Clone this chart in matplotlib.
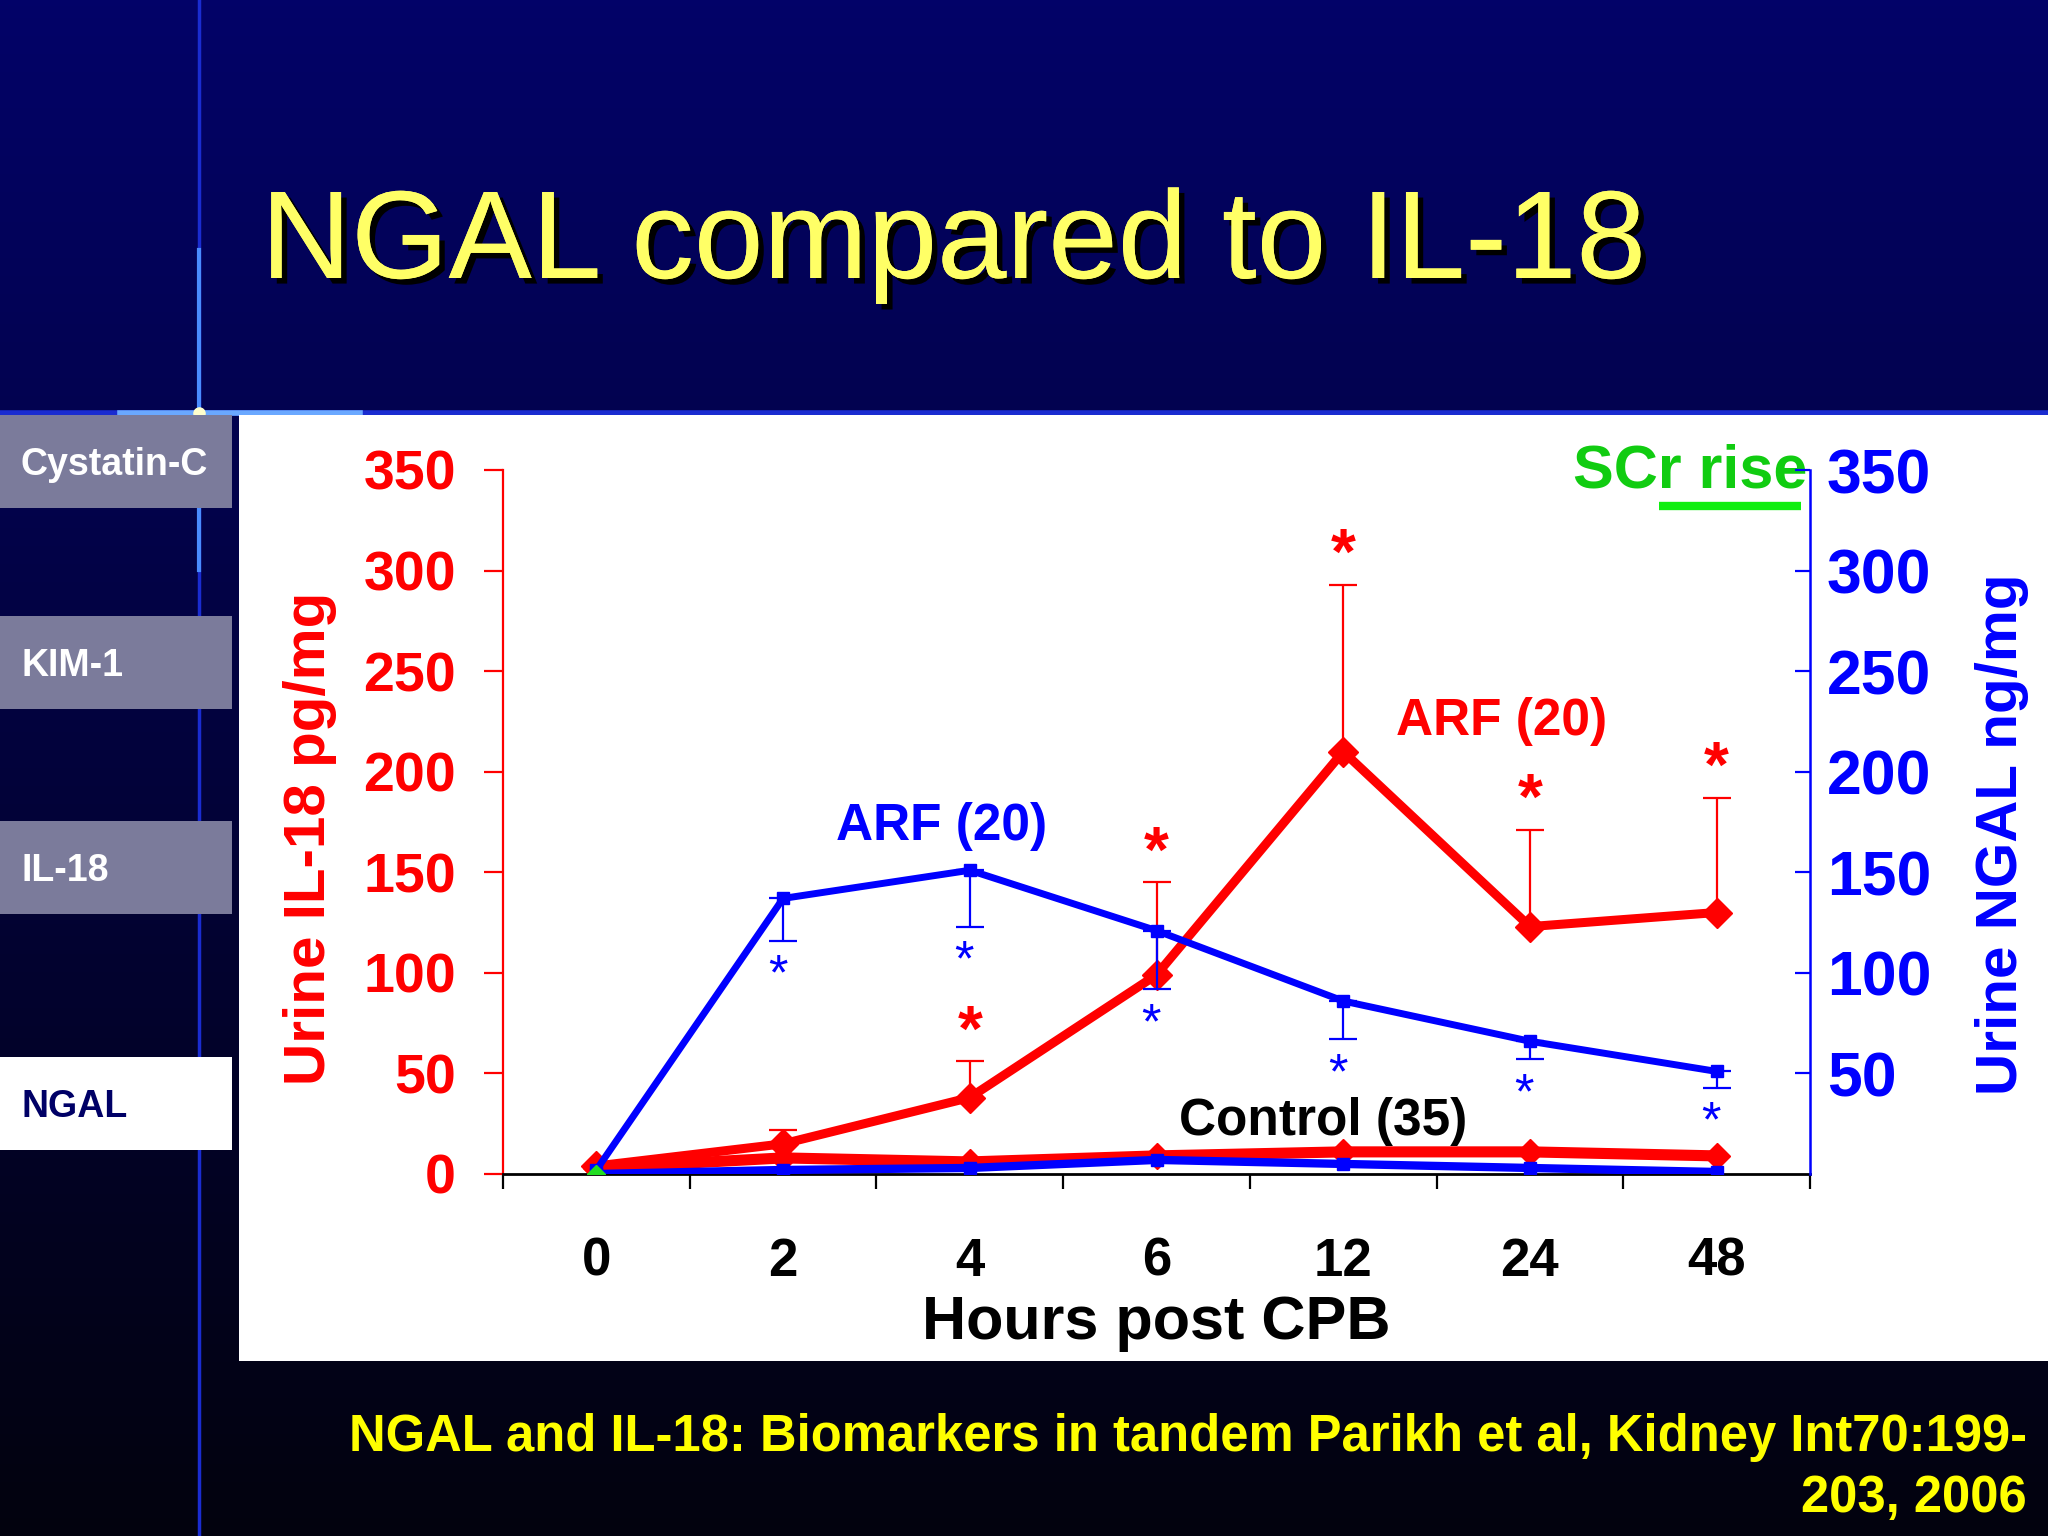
import numpy as np
import matplotlib
matplotlib.use("Agg")
import matplotlib.pyplot as plt
from matplotlib.patches import Rectangle
import matplotlib.patheffects as pe


# x categories (hours post CPB)
HOURS = ["0", "2", "4", "6", "12", "24", "48"]

# urine IL-18 (pg/mg), left axis
IL18_ARF = [4, 15, 38, 99, 210, 123, 130]
IL18_ARF_ERR = [0, 7, 18, 46, 83, 48, 57]
IL18_CTRL = [3, 8, 6, 9, 11, 11, 9]
IL18_STAR = [False, False, True, True, True, True, True]

# urine NGAL (ng/mg), right axis
NGAL_ARF = [2, 137, 151, 121, 86, 66, 51]
NGAL_ARF_ERR = [0, 21, 28, 29, 19, 9, 8]
NGAL_CTRL = [0, 2, 3, 7, 5, 3, 1]
NGAL_STAR = [False, True, True, True, True, True, True]

# creatinine baseline marker
SCR_BASE = [0]

SIDEBAR = ["Cystatin-C", "KIM-1", "IL-18", "NGAL"]

RED = "#ff0000"
BLUE = "#0000ff"
GREEN = "#22dd22"
YELLOW = "#ffff66"
FONT = "Liberation Sans"

W, H = 2048, 1536


def fx(px):
    return px / W


def fy(py):
    return 1 - py / H


fig = plt.figure(figsize=(20.48, 15.36), dpi=100)

# slide background
bg = fig.add_axes([0, 0, 1, 1], zorder=0)
grad = np.linspace(0, 1, 256)[:, None]
top = np.array([2, 2, 104]) / 255
bot = np.array([2, 2, 14]) / 255
img = top[None, None, :] * (1 - grad[..., None]) + bot[None, None, :] * grad[..., None]
bg.imshow(img, aspect="auto", extent=[0, 1, 0, 1])
bg.set_xlim(0, 1)
bg.set_ylim(0, 1)
bg.axis("off")

# decorative lines
bg.plot([fx(199), fx(199)], [0, 1], color="#1a2cd0", lw=2.5, zorder=2)
bg.plot([fx(199), fx(199)], [fy(570), fy(250)], color="#4a8cff", lw=3, zorder=2)
bg.plot([0, 1], [fy(413), fy(413)], color="#1a2cd0", lw=4, zorder=2)
bg.plot([fx(120), fx(360)], [fy(413), fy(413)], color="#6aa8ff", lw=4, zorder=2)
bg.plot([fx(199)], [fy(413)], marker="o", ms=8, color="#ffffcc", zorder=3)

# white chart panel
bg.add_patch(Rectangle((fx(239), fy(1361)), fx(2048 - 239), (1361 - 415) / H,
                       facecolor="white", edgecolor="none", zorder=3))

# sidebar boxes
box_tops = [415, 616, 821, 1057]
for name, t in zip(SIDEBAR, box_tops):
    active = name == "NGAL"
    bg.add_patch(Rectangle((0, fy(t + 93)), fx(232), 93 / H,
                           facecolor="white" if active else "#7b7b9b",
                           edgecolor="none", zorder=4))
    bg.text(fx(21), fy(t + 50), name, color="#000066" if active else "white",
            fontsize=27, fontweight="bold", va="center", ha="left",
            family=FONT, zorder=5)

# title and footer
fig.text(fx(261), fy(278), "NGAL compared to IL-18", color=YELLOW, fontsize=90,
         family=FONT, va="baseline", ha="left",
         path_effects=[pe.withSimplePatchShadow(offset=(4, -4), shadow_rgbFace="black", alpha=1),
                       pe.Normal()])
fig.text(fx(2027), fy(1438), "NGAL and IL-18: Biomarkers in tandem Parikh et al, Kidney Int70:199-",
         color="#ffff00", fontsize=36.5, fontweight="bold", family=FONT, ha="right", va="center")
fig.text(fx(2027), fy(1498), "203, 2006",
         color="#ffff00", fontsize=36.5, fontweight="bold", family=FONT, ha="right", va="center")

# chart
ax = fig.add_axes([fx(503), fy(1174), fx(1810 - 503), (1174 - 470) / H], zorder=5)
ax.patch.set_alpha(0)
ax2 = ax.twinx()
x = np.arange(len(HOURS))

ax.set_xlim(-0.5, len(HOURS) - 0.5)
ax.set_ylim(0, 350)
ax2.set_ylim(0, 350)

# control lines
ax2.plot(x, NGAL_CTRL, color=BLUE, lw=6, marker="s", ms=9, zorder=3)
ax.plot(x, IL18_CTRL, color=RED, lw=8, marker="D", ms=13, zorder=3)

# IL-18 ARF
ax.errorbar(x[1:], IL18_ARF[1:], yerr=[np.zeros(len(x) - 1), IL18_ARF_ERR[1:]],
            fmt="none", ecolor=RED, elinewidth=1.6, capsize=10, capthick=1.6, zorder=2)
ax.plot(x, IL18_ARF, color=RED, lw=6.5, marker="D", ms=15, zorder=4)

# NGAL ARF
ax2.errorbar(x[1:], NGAL_ARF[1:], yerr=[NGAL_ARF_ERR[1:], np.zeros(len(x) - 1)],
             fmt="none", ecolor=BLUE, elinewidth=1.6, capsize=10, capthick=1.6, zorder=2)
ax2.plot(x, NGAL_ARF, color=BLUE, lw=5, marker="s", ms=9, zorder=4)

ax2.plot(x[:1], SCR_BASE, color=GREEN, marker="D", ms=9, lw=0, zorder=5)

# significance stars
for xi, yv, e, s in zip(x, IL18_ARF, IL18_ARF_ERR, IL18_STAR):
    if s:
        ax.annotate("*", (xi, yv + e), xytext=(0, 20), textcoords="offset points",
                    ha="center", va="center", color=RED, fontsize=46, fontweight="bold",
                    family=FONT)
for xi, yv, e, s in zip(x, NGAL_ARF, NGAL_ARF_ERR, NGAL_STAR):
    if s:
        ax2.annotate("*", (xi - 0.03, yv - e), xytext=(0, -26), textcoords="offset points",
                     ha="center", va="center", color=BLUE, fontsize=36, family=FONT)

# series labels
lab = dict(fontsize=37, fontweight="bold", family=FONT, ha="center", va="center")
ax.text(1.85, 173, "ARF (20)", color=BLUE, **lab)
ax.text(4.85, 225, "ARF (20)", color=RED, **lab)
ax.text(3.89, 26, "Control (35)", color="black", **lab)
ax.text(5.86, 349, "SCr rise", color="#11cc11", fontsize=44, fontweight="bold",
        family=FONT, ha="center", va="center", clip_on=False)
ax.plot([5.69, 6.45], [332, 332], color="#11ee11", lw=6, solid_capstyle="butt", clip_on=False)

# axes styling
for sp in ["top", "right"]:
    ax.spines[sp].set_visible(False)
for sp in ["top", "left", "bottom"]:
    ax2.spines[sp].set_visible(False)
ax.spines["left"].set_color(RED)
ax.spines["left"].set_linewidth(1.6)
ax.spines["bottom"].set_color("black")
ax.spines["bottom"].set_linewidth(2)
ax2.spines["right"].set_color(BLUE)
ax2.spines["right"].set_linewidth(1.8)

ax.set_xticks(np.arange(-0.5, len(HOURS)), labels=[""] * (len(HOURS) + 1))
ax.set_xticks(x, labels=HOURS, minor=True)
ax.tick_params(axis="x", which="major", direction="out", length=11, width=1.6, color="black")
ax.tick_params(axis="x", which="minor", length=0, pad=45, labelsize=38)
for t in ax.get_xticklabels(minor=True):
    t.set_fontweight("bold")
    t.set_family(FONT)

yt = np.arange(0, 351, 50)
ax.set_yticks(yt)
ax.tick_params(axis="y", direction="out", length=14, width=1.6, color=RED,
               labelcolor=RED, labelsize=40, pad=20)
for t in ax.get_yticklabels():
    t.set_fontweight("bold")
    t.set_family(FONT)

ax2.set_yticks(yt[1:], labels=[str(v) for v in yt[1:]])
ax2.tick_params(axis="y", direction="in", length=11, width=1.6, color=BLUE,
                labelcolor=BLUE, labelsize=45, pad=12)
for t in ax2.get_yticklabels():
    t.set_fontweight("bold")
    t.set_family(FONT)

ax.set_ylabel("Urine IL-18 pg/mg", color=RED, fontsize=42, fontweight="bold", family=FONT)
ax.yaxis.set_label_coords(-0.127, 0.477)
ax2.set_ylabel("Urine NGAL ng/mg", color=BLUE, fontsize=42, fontweight="bold", family=FONT)
ax2.yaxis.set_label_coords(1.126, 0.482)
ax.set_xlabel("Hours post CPB", color="black", fontsize=44, fontweight="bold",
              family=FONT, labelpad=6)

fig.savefig("out.png", dpi=100)
